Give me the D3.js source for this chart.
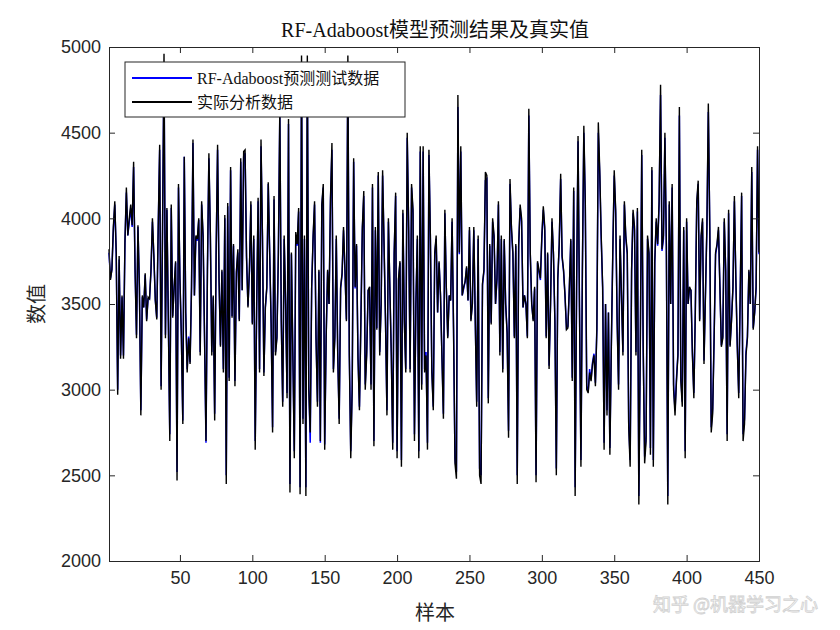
<!DOCTYPE html>
<html><head><meta charset="utf-8">
<script src="https://cdn.jsdelivr.net/npm/d3@7"></script>
<style>body{margin:0;background:#fff}</style></head>
<body><svg id="c" width="840" height="630"></svg>
<script>
const actual=[3820,3640,3700,3950,4100,3800,2970,3780,3180,3550,
3180,3860,4180,3900,4000,4080,3960,4330,3700,3300,
3960,3600,2850,3550,3480,3680,3400,3540,3530,3700,
4000,3780,3520,3410,3950,4430,3000,3950,4960,3300,
4060,3400,2700,4080,3420,3600,3750,2470,4200,3650,
3300,2800,4360,3450,3100,3300,3150,3600,4460,3550,
3900,3880,4000,3200,4100,3900,3300,2700,3700,4380,
3920,3200,3550,2820,3800,4430,3650,3250,3700,3100,
4020,2450,4090,3050,4300,3420,3850,3020,3690,3820,
3400,4350,3580,4390,4400,3780,3480,3700,4100,3380,
3900,2650,3480,4120,3100,4460,3900,3080,3480,3600,
4210,3800,3380,2750,4130,3200,3300,3800,4650,3400,
2900,3900,3500,2950,4580,2400,3800,3200,2600,3920,
3850,4060,2390,4950,2800,3900,2380,4950,3000,2750,
3600,3900,4100,3300,2900,3700,2700,4080,4200,2650,
3300,3700,3500,4120,4440,3100,3300,3900,3200,2800,
3600,3680,3950,3700,3400,4950,3200,2600,3000,4350,
3600,3850,3180,2880,3400,3950,4160,3000,3200,3580,
3600,3000,4200,2670,3950,3350,4270,3200,3500,4280,
3850,3400,2850,4000,3600,3200,2650,3800,4150,2600,
3650,3750,2550,4050,3400,3100,4500,3950,3100,4200,
4050,2700,3500,3900,2600,4420,3000,4420,3100,3200,
2650,4400,3900,3100,2880,3800,3900,3450,3750,3550,
3180,2830,4050,3600,3300,3550,3520,4000,3350,2570,
2480,4720,3800,4420,3550,3600,3630,3720,3520,3950,
3400,3500,3950,3400,2900,3900,2500,2450,3620,3700,
4270,4250,2920,3850,3380,4000,3900,3500,3650,4100,
3200,3900,3100,3880,3500,3330,2720,4230,3950,3800,
3300,3850,2450,3850,4080,4000,3480,3550,3500,3300,
4640,3800,3500,3400,3600,2460,3750,3700,3650,3900,
4070,3950,3300,3800,3120,3500,4000,3800,3400,2500,
3650,3850,4260,3780,3700,3550,3350,3360,3600,3880,
3050,4180,2380,3600,4480,3480,2550,3700,4540,4100,
3000,2980,3100,3050,3150,3200,3020,3350,4560,4280,
3900,3600,2650,3500,2850,3450,2620,3250,3800,4280,
4050,3400,3000,3900,3550,3200,4100,3900,3800,2780,
2550,3700,4050,3950,3200,4060,2330,3250,4400,3250,
2570,2700,3900,3800,2620,4300,2550,3750,4000,3850,
4100,4780,3820,3900,4500,3850,2330,4100,3500,4200,
3000,2850,3050,3200,4650,3050,2900,3950,2600,4000,
3500,3600,3580,3200,2950,3450,4100,4220,3400,3900,
4000,3150,3550,3950,4670,3950,2750,2860,3300,3800,
3850,3950,3600,3250,3300,4000,3700,2700,4050,3250,
3400,3600,4130,3650,3250,2950,3550,4150,2700,2800,
3200,3300,3700,3500,4300,3350,3450,3600,4420,3800];
const predicted=[3800,3650,3700,3930,4080,3790,3000,3760,3200,3540,
3200,3850,4150,3900,3980,4060,3950,4300,3700,3320,
3950,3600,2880,3540,3480,3670,3410,3530,3530,3690,
3980,3770,3520,3420,3940,4400,3020,3940,4900,3320,
4050,3400,2740,4060,3430,3600,3740,2520,4180,3640,
3320,2820,4360,3450,3120,3310,3160,3590,4440,3550,
3890,3870,3990,3220,4080,3890,3310,2690,3700,4350,
3900,3220,3540,2860,3790,4400,3640,3260,3690,3120,
4000,2500,4070,3070,4280,3430,3840,3050,3680,3800,
3410,4330,3580,4360,4380,3770,3490,3690,4080,3390,
3880,2700,3490,4100,3120,4420,3890,3100,3480,3590,
4200,3790,3390,2780,4110,3220,3310,3790,4600,3410,
2930,3880,3500,2980,4550,2450,3790,3220,2640,3900,
3840,4040,2430,4900,2830,3880,2430,4900,3030,2690,
3590,3880,4080,3310,2930,3690,2690,4070,4180,2680,
3310,3690,3500,4100,4400,3120,3310,3880,3220,2830,
3590,3670,3930,3690,3410,4900,3220,2640,3030,4330,
3590,3840,3200,2900,3410,3930,4130,3030,3220,3580,
3590,3030,4180,2700,3930,3360,4250,3220,3500,4250,
3840,3410,2880,3980,3590,3220,2690,3790,4130,2640,
3640,3740,2590,4030,3410,3120,4470,3930,3120,4180,
4030,2740,3500,3880,2640,4390,3030,4390,3120,3220,
2690,4370,3880,3120,2900,3790,3880,3450,3740,3550,
3200,2860,4030,3590,3310,3550,3520,3980,3360,2600,
2520,4650,3790,4390,3550,3590,3630,3710,3520,3930,
3410,3500,3930,3410,2930,3880,2540,2500,3610,3690,
4220,4230,2950,3840,3390,3980,3880,3500,3640,4080,
3220,3880,3120,3870,3500,3340,2760,4200,3930,3790,
3310,3840,2500,3840,4060,3980,3480,3550,3500,3310,
4600,3790,3500,3410,3590,2500,3740,3690,3640,3880,
4050,3930,3310,3790,3140,3500,3980,3790,3410,2540,
3640,3840,4230,3770,3690,3550,3360,3370,3590,3870,
3070,4160,2430,3590,4450,3480,2590,3690,4500,4080,
3020,2990,3120,3060,3160,3210,3040,3360,4500,4250,
3880,3590,2690,3500,2880,3450,2660,3260,3790,4250,
4030,3410,3030,3880,3550,3220,4080,3880,3790,2810,
2590,3690,4030,3930,3220,4040,2380,3260,4370,3260,
2610,2730,3880,3790,2660,4280,2590,3740,3980,3840,
4080,4720,3810,3880,4470,3840,2380,4080,3500,4180,
3030,2880,3070,3210,4600,3070,2930,3930,2640,3980,
3500,3590,3580,3220,2980,3450,4080,4200,3410,3880,
3980,3170,3550,3930,4620,3930,2780,2890,3310,3790,
3840,3930,3600,3260,3310,3980,3690,2740,4030,3260,
3410,3590,4100,3640,3260,2980,3550,4130,2740,2830,
3220,3310,3690,3500,4270,3360,3450,3590,4400,3790];
const xTicks=[50,100,150,200,250,300,350,400,450];
const yTicks=[2000,2500,3000,3500,4000,4500,5000];
const svg=d3.select("#c");
const L=109,R=759,T=47,B=561;
const x=d3.scaleLinear().domain([1,450]).range([L,R]);
const y=d3.scaleLinear().domain([2000,5000]).range([B,T]);
const sans="'Liberation Sans',Arial,sans-serif";
const serif="'Liberation Serif','Times New Roman','Noto Sans CJK SC',serif";
const g=svg.append("g");
const line=d3.line().x((d,i)=>x(i+1)).y(d=>y(d));
g.append("path").datum(predicted).attr("d",line).attr("fill","none").attr("stroke","#0000ff").attr("stroke-width",1.5);
g.append("path").datum(actual).attr("d",line).attr("fill","none").attr("stroke","#000").attr("stroke-width",1.4);
const ax=d3.axisBottom(x).tickValues(xTicks).tickSize(-6).tickPadding(10).tickFormat(d3.format("d"));
const ay=d3.axisLeft(y).tickValues(yTicks).tickSize(-6).tickPadding(8).tickFormat(d3.format("d"));
const gx=svg.append("g").attr("transform",`translate(0,${B})`).call(ax);
const gy=svg.append("g").attr("transform",`translate(${L},0)`).call(ay);
svg.append("g").attr("transform",`translate(0,${T})`).call(d3.axisTop(x).tickValues(xTicks).tickSize(-6).tickFormat(""));
svg.append("g").attr("transform",`translate(${R},0)`).call(d3.axisRight(y).tickValues(yTicks).tickSize(-6).tickFormat(""));
svg.selectAll(".domain").attr("stroke","#262626");
svg.selectAll(".tick line").attr("stroke","#262626");
[gx,gy].forEach(a=>a.selectAll("text").attr("font-family",sans).attr("font-size",18).attr("fill","#262626"));
svg.append("text").attr("x",435).attr("y",37).attr("text-anchor","middle").attr("font-family",serif).attr("font-size",20).attr("fill","#111").text("RF-Adaboost模型预测结果及真实值");
svg.append("text").attr("x",435).attr("y",620).attr("text-anchor","middle").attr("font-family",serif).attr("font-size",20).attr("fill","#262626").text("样本");
svg.append("text").attr("transform","translate(44,304) rotate(-90)").attr("text-anchor","middle").attr("font-family",serif).attr("font-size",20).attr("fill","#262626").text("数值");
const lg=svg.append("g");
lg.append("rect").attr("x",125).attr("y",62).attr("width",280).attr("height",55).attr("fill","#fff").attr("stroke","#262626");
[["RF-Adaboost预测测试数据","#0000ff",78],["实际分析数据","#000",102]].forEach(([t,c,yy])=>{
 lg.append("line").attr("x1",132).attr("x2",192).attr("y1",yy).attr("y2",yy).attr("stroke",c).attr("stroke-width",2);
 lg.append("text").attr("x",197).attr("y",yy+6).attr("font-family",serif).attr("font-size",16).attr("fill","#111").text(t);
});
svg.append("text").attr("x",818).attr("y",611).attr("text-anchor","end").attr("font-family","'Noto Sans CJK SC',sans-serif").attr("font-size",18).attr("fill","#ffffff").attr("stroke","#ccc").attr("stroke-width",0.8).attr("opacity",0.9).text("知乎 @机器学习之心");
</script></body></html>
